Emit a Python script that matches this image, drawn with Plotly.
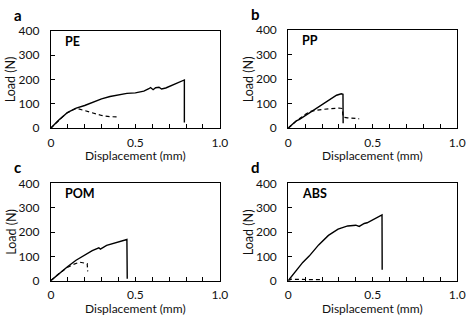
import plotly.graph_objects as go

# ---------- data (Displacement mm, Load N) ----------
pe_solid_x = [0, 0.05, 0.1, 0.15, 0.2, 0.25, 0.3, 0.35, 0.4, 0.45, 0.5, 0.55, 0.58, 0.59, 0.605, 0.62, 0.64, 0.655, 0.68, 0.72, 0.76, 0.79, 0.79]
pe_solid_y = [0, 35, 65, 82, 93, 108, 120, 130, 138, 143, 145, 152, 162, 167, 158, 166, 168, 161, 165, 178, 190, 198, 23]
pe_dash_x = [0, 0.05, 0.09, 0.15, 0.2, 0.25, 0.3, 0.35, 0.4]
pe_dash_y = [0, 35, 60, 82, 72, 60, 52, 47, 46]

pp_solid_x = [0, 0.048, 0.067, 0.124, 0.18, 0.238, 0.286, 0.314, 0.324, 0.325]
pp_solid_y = [0, 30, 36, 62, 88, 114, 134, 140, 138, 20]
pp_dash_x = [0, 0.05, 0.1, 0.13, 0.2, 0.25, 0.3, 0.32, 0.325, 0.35, 0.42]
pp_dash_y = [0, 30, 55, 68, 76, 80, 82, 80, 45, 42, 38]

pom_solid_x = [0, 0.052, 0.1, 0.149, 0.197, 0.245, 0.284, 0.293, 0.33, 0.39, 0.43, 0.45, 0.452]
pom_solid_y = [0, 32, 58, 84, 104, 123, 135, 130, 145, 158, 166, 169, 8]
pom_dash_x = [0, 0.05, 0.1, 0.13, 0.17, 0.2, 0.215, 0.218]
pom_dash_y = [0, 30, 55, 66, 76, 74, 70, 38]

abs_solid_x = [0, 0.048, 0.086, 0.124, 0.133, 0.18, 0.238, 0.295, 0.352, 0.40, 0.42, 0.45, 0.467, 0.505, 0.543, 0.552, 0.555, 0.556]
abs_solid_y = [0, 43, 75, 101, 108, 147, 186, 212, 225, 228, 223, 235, 238, 251, 264, 268, 270, 45]
abs_dash_x = [0, 0.02, 0.05, 0.1, 0.15, 0.2]
abs_dash_y = [0, 6, 5, 5, 5, 4]

panel_letters = ["a", "b", "c", "d"]
materials = ["PE", "PP", "POM", "ABS"]
x_tickvals = [0, 0.5, 1.0]
x_ticktext = ["0", "0.5", "1.0"]
y_tickvals = [0, 100, 200, 300, 400]
y_ticktext = ["0", "100", "200", "300", "400"]
x_title = "Displacement (mm)"
y_title = "Load (N)"

W, H = 474, 321
FONT = "Lato, 'Open Sans', sans-serif"
TXT = "#111"

# panel pixel boxes: (left, right, top, bottom)
boxes = [(49, 222, 24, 126), (292, 465, 23, 126), (49, 222, 184, 286), (292, 465, 184, 286)]

series = [
    (pe_solid_x, pe_solid_y, pe_dash_x, pe_dash_y),
    (pp_solid_x, pp_solid_y, pp_dash_x, pp_dash_y),
    (pom_solid_x, pom_solid_y, pom_dash_x, pom_dash_y),
    (abs_solid_x, abs_solid_y, abs_dash_x, abs_dash_y),
]

fig = go.Figure()
layout = dict(width=W, height=H, margin=dict(l=0, r=0, t=0, b=0),
              paper_bgcolor="white", plot_bgcolor="white", showlegend=False,
              font=dict(family=FONT, color=TXT, size=11))
annotations = []

for i, (box, s) in enumerate(zip(boxes, series)):
    l, r, t, b = box
    n = "" if i == 0 else str(i + 1)
    xa, ya = "x" + n, "y" + n
    sx, sy, dx, dy = s
    fig.add_trace(go.Scatter(x=dx, y=dy, mode="lines", xaxis=xa, yaxis=ya,
                             line=dict(color="black", width=1.2, dash="4px,3px")))
    fig.add_trace(go.Scatter(x=sx, y=sy, mode="lines", xaxis=xa, yaxis=ya,
                             line=dict(color="black", width=1.4)))
    layout["xaxis" + n] = dict(domain=[l / W, r / W], anchor=ya, range=[0, 1],
                               tickvals=x_tickvals, ticktext=x_ticktext,
                               ticks="inside", ticklen=4, tickcolor="black",
                               minor=dict(dtick=0.1, tick0=0, ticks="inside", ticklen=4, tickcolor="black"),
                               showline=True, mirror=True, linecolor="black", linewidth=1,
                               showgrid=False, zeroline=False, ticklabelstandoff=3,
                               tickfont=dict(size=12, family=FONT, color=TXT))
    layout["yaxis" + n] = dict(domain=[1 - b / H, 1 - t / H], anchor=xa, range=[0, 400],
                               tickvals=y_tickvals, ticktext=y_ticktext,
                               ticks="inside", ticklen=4, tickcolor="black",
                               showline=True, mirror=True, linecolor="black", linewidth=1,
                               showgrid=False, zeroline=False, ticklabelstandoff=8,
                               tickfont=dict(size=12, family=FONT, color=TXT))
    # axis titles
    annotations.append(dict(text=x_title, xref="paper", yref="paper",
                            x=(l + r) / 2 / W, y=1 - (b + 29) / H, xanchor="center", yanchor="middle",
                            showarrow=False, font=dict(size=12, family=FONT, color=TXT)))
    annotations.append(dict(text=y_title, xref="paper", yref="paper", textangle=-90,
                            x=(l - 41) / W, y=1 - (t + b) / 2 / H, xanchor="center", yanchor="middle",
                            showarrow=False, font=dict(size=12.5, family=FONT, color=TXT)))
    # material label
    annotations.append(dict(text="<b>" + materials[i] + "</b>", xref="paper", yref="paper",
                            x=(l + 12) / W, y=1 - (t + 11) / H, xanchor="left", yanchor="middle",
                            showarrow=False, font=dict(size=12.5, family=FONT, color="black")))
    # panel letter
    annotations.append(dict(text="<b>" + panel_letters[i] + "</b>", xref="paper", yref="paper",
                            x=(l - 40) / W, y=1 - (t - 17) / H, xanchor="left", yanchor="middle",
                            showarrow=False, font=dict(size=15, family=FONT, color="black")))

layout["annotations"] = annotations
fig.update_layout(**layout)
fig.write_html("out.html")
